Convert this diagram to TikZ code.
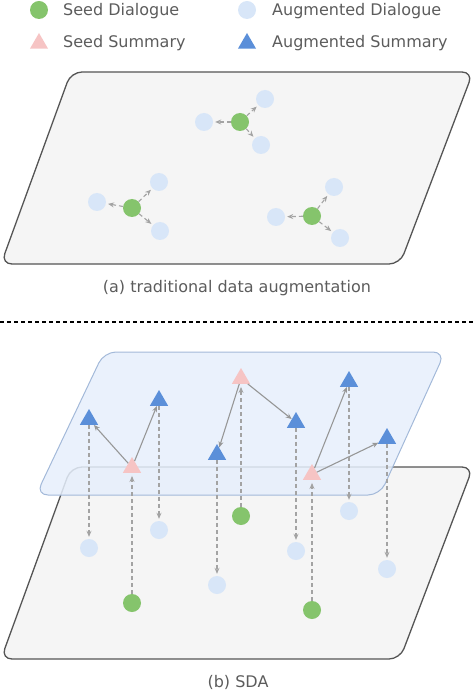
\documentclass[tikz,border=0pt]{standalone}
\usepackage{fontspec}
\setmainfont{DejaVu Sans}
\usetikzlibrary{shapes.geometric, arrows.meta, positioning}
\definecolor{seedgreen}{HTML}{85C46C}
\definecolor{seedpink}{HTML}{F6C4C4}
\definecolor{augblue}{HTML}{5B8FD9}
\definecolor{auglight}{HTML}{D8E6F8}
\definecolor{linkgrey}{HTML}{979797}
\definecolor{dashgrey}{HTML}{A3A3A3}
\definecolor{textgrey}{HTML}{5C5C5C}
\definecolor{planefill}{HTML}{F5F5F5}
\definecolor{planeline}{HTML}{555555}
\definecolor{upfill}{HTML}{E6EFFC}
\definecolor{upline}{HTML}{A3B9D9}

\begin{document}
\begin{tikzpicture}[x=1pt, y=-1pt,
    seeddia/.style={circle, fill=seedgreen, minimum size=18pt, inner sep=0pt},
    augdia/.style={circle, fill=auglight, minimum size=18pt, inner sep=0pt},
    seedsum/.style={regular polygon, regular polygon sides=3, fill=seedpink, minimum size=21pt, inner sep=0pt},
    augsum/.style={regular polygon, regular polygon sides=3, fill=augblue, minimum size=21pt, inner sep=0pt},
    link/.style={draw=linkgrey, line width=1.1pt, -{Stealth[length=6pt,width=5pt]}},
    dlink/.style={link, draw=dashgrey, dash pattern=on 4pt off 3pt},
    txt/.style={text=textgrey, inner sep=0pt, font=\fontsize{16}{19}\selectfont},
    plane/.style={draw=planeline, fill=planefill, line width=1.3pt, rounded corners=11pt}]

    \useasboundingbox (0,0) rectangle (474,692);

    % ==========================================
    % Legend
    % ==========================================
    \node[seeddia] (lgseed) at (39,10) {};
    \node[txt, anchor=west] (lgseedtxt) at (63,11) {Seed Dialogue};
    \node[augdia] (lgaug) at (247,10) {};
    \node[txt, anchor=west] (lgaugtxt) at (272,11) {Augmented Dialogue};
    \node[seedsum] (lgssum) at (39,43.5) {};
    \node[txt, anchor=west] (lgssumtxt) at (63,43) {Seed Summary};
    \node[augsum] (lgasum) at (247,43.5) {};
    \node[txt, anchor=west] (lgasumtxt) at (272,43) {Augmented Summary};

    % ==========================================
    % (a) Traditional data augmentation
    % ==========================================
    \draw[plane] (1,264) -- (71,72) -- (473,72) -- (400,264) -- cycle;

    \node[seeddia] (g1) at (240,122) {};
    \node[augdia] (d11) at (204,122) {};
    \node[augdia] (d12) at (265,99) {};
    \node[augdia] (d13) at (261,145) {};

    \node[seeddia] (g2) at (132,208) {};
    \node[augdia] (d21) at (97,202) {};
    \node[augdia] (d22) at (159,182) {};
    \node[augdia] (d23) at (160,231) {};

    \node[seeddia] (g3) at (312,216) {};
    \node[augdia] (d31) at (276,217) {};
    \node[augdia] (d32) at (334,187) {};
    \node[augdia] (d33) at (340,238) {};

    \foreach \c in {1,2,3}
        \foreach \d in {1,2,3}
            \draw[dlink, shorten >=2pt] (g\c) -- (d\c\d);

    \node[txt] (capa) at (237,288) {(a) traditional data augmentation};

    % Separator
    \draw[line width=1.3pt, dash pattern=on 4pt off 3pt] (0,322) -- (474,322);

    % ==========================================
    % (b) SDA
    % ==========================================
    \draw[plane] (1,659) -- (71,467) -- (473,467) -- (400,659) -- cycle;
    \draw[draw=upline, fill=upfill, fill opacity=0.85, line width=1pt, rounded corners=12pt]
        (36,495) -- (104,352) -- (445,352) -- (380,495) -- cycle;

    % Seed summaries and augmented summaries
    \node[seedsum] (s1) at (132,467.5) {};
    \node[seedsum] (s2) at (241,378.5) {};
    \node[seedsum] (s3) at (312,474.5) {};
    \node[augsum] (t1) at (89,419.5) {};
    \node[augsum] (t2) at (159,400.5) {};
    \node[augsum] (t3) at (217,454.5) {};
    \node[augsum] (t4) at (296,422.5) {};
    \node[augsum] (t5) at (349,381.5) {};
    \node[augsum] (t6) at (387,438.5) {};

    % Seed dialogues and augmented dialogues
    \node[seeddia] (gb1) at (132,603) {};
    \node[seeddia] (gb2) at (241,516) {};
    \node[seeddia] (gb3) at (312,610) {};
    \node[augdia] (c1) at (89,548) {};
    \node[augdia] (c2) at (159,530) {};
    \node[augdia] (c3) at (217,585) {};
    \node[augdia] (c4) at (296,551) {};
    \node[augdia] (c5) at (349,511) {};
    \node[augdia] (c6) at (387,569) {};

    % Dialogue -> summary
    \foreach \i in {1,2,3}
        \draw[dlink, shorten >=3pt] (gb\i) -- (s\i);

    % Summary -> augmented summary
    \draw[link] (s1) -- (t1);
    \draw[link] (s1) -- (t2);
    \draw[link] (s2) -- (t3);
    \draw[link] (s2) -- (t4);
    \draw[link] (s3) -- (t5);
    \draw[link] (s3) -- (t6);

    % Augmented summary -> augmented dialogue
    \foreach \i in {1,...,6}
        \draw[dlink, shorten >=2pt] (t\i) -- (c\i);

    \node[txt] (capb) at (238,682) {(b) SDA};

\end{tikzpicture}
\end{document}
